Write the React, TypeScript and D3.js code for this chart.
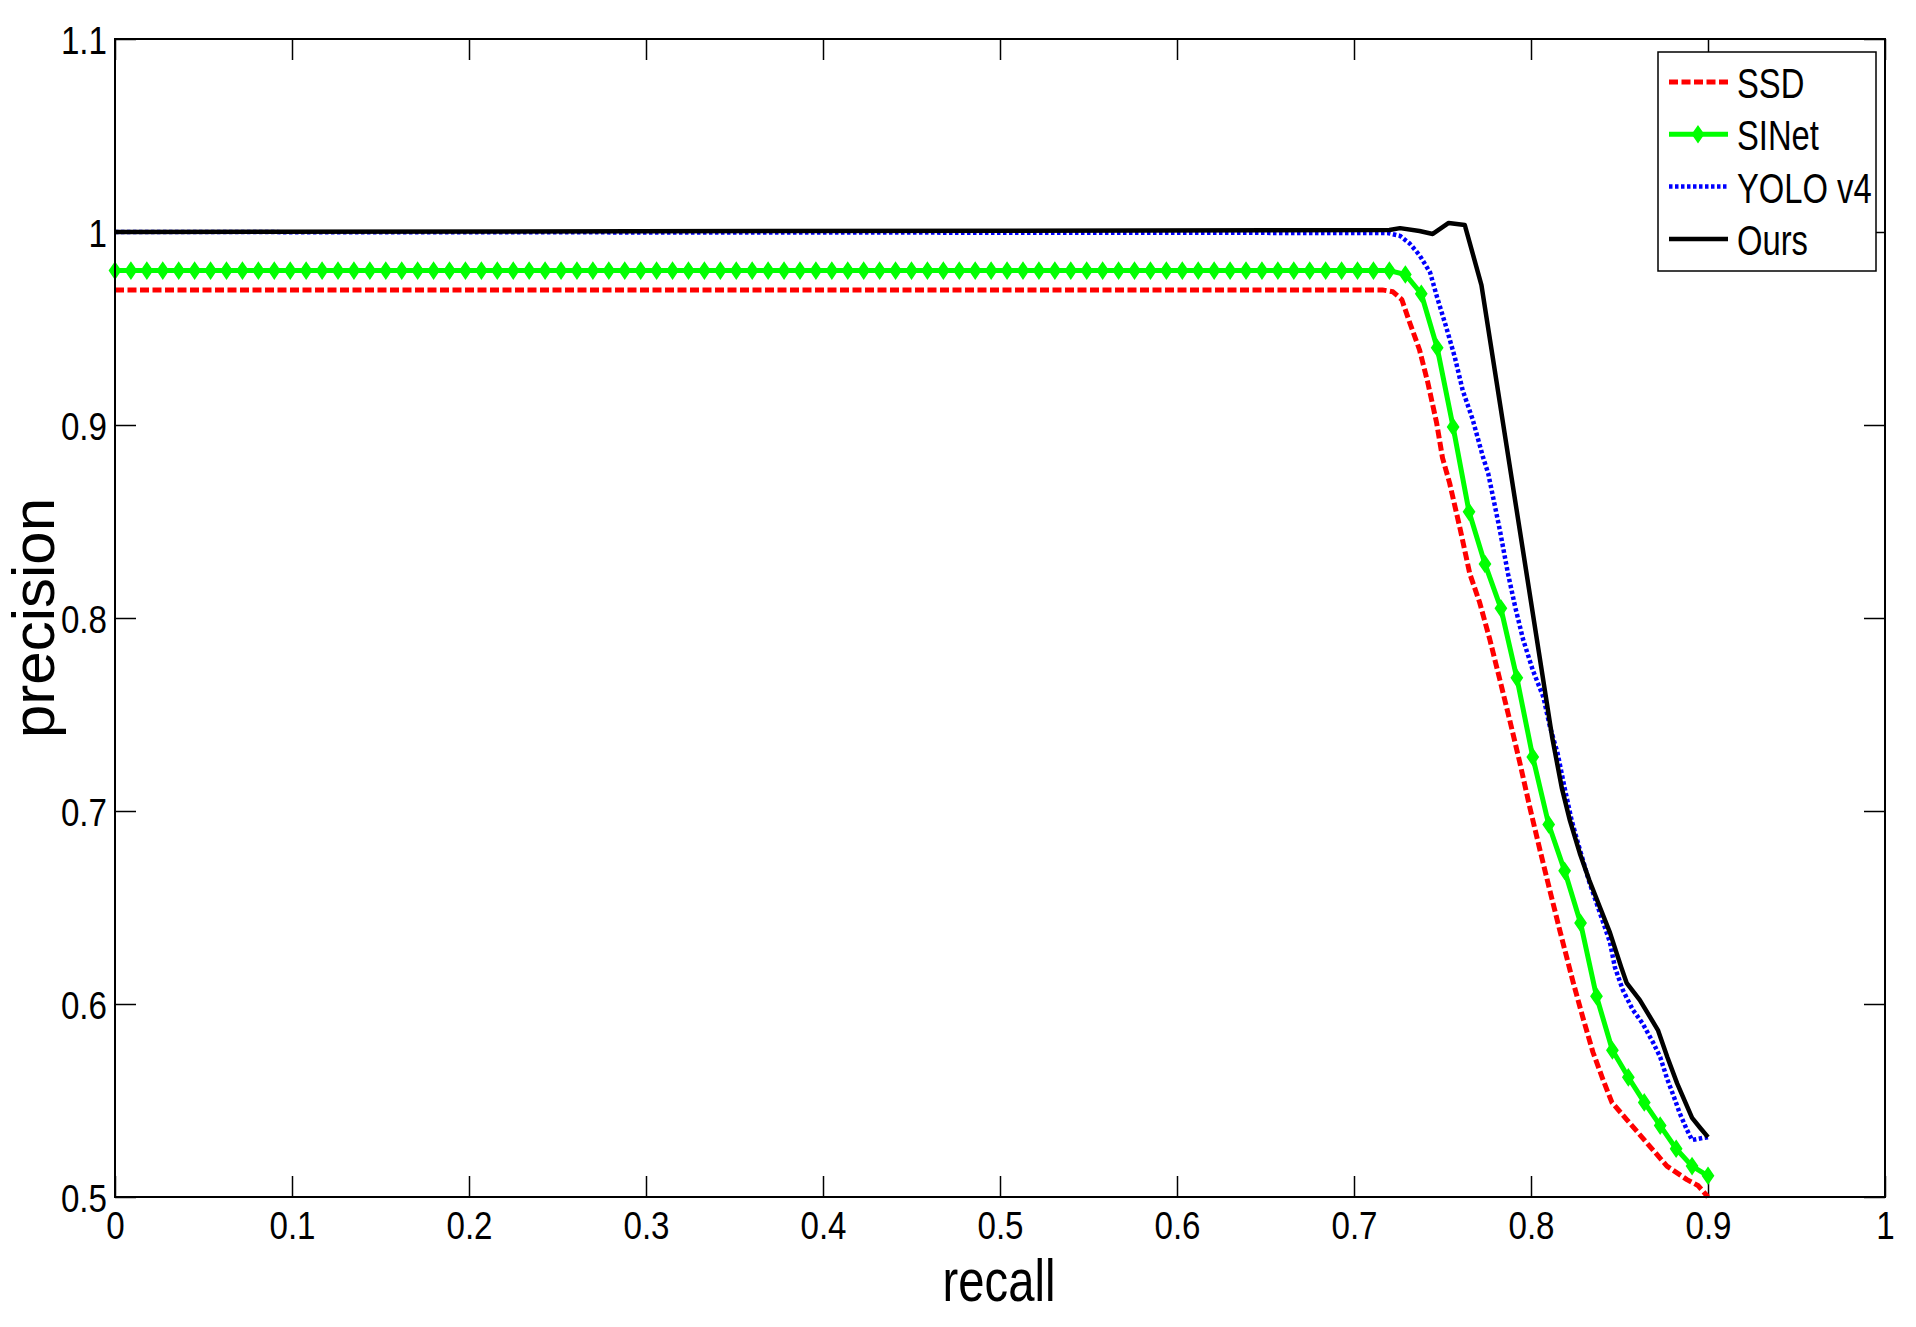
import * as React from 'react'
import * as d3 from 'd3'

const xTicks = [0, 0.1, 0.2, 0.3, 0.4, 0.5, 0.6, 0.7, 0.8, 0.9, 1]
const xTickLabels = ['0', '0.1', '0.2', '0.3', '0.4', '0.5', '0.6', '0.7', '0.8', '0.9', '1']
const yTicks = [0.5, 0.6, 0.7, 0.8, 0.9, 1, 1.1]
const yTickLabels = ['0.5', '0.6', '0.7', '0.8', '0.9', '1', '1.1']

const seriesNames = ['SSD', 'SINet', 'YOLO v4', 'Ours']

const ssdRecall = [0, 0.716, 0.722, 0.727, 0.7315, 0.737, 0.7417, 0.7467, 0.75, 0.754, 0.76, 0.7654, 0.771, 0.7767,
    0.7824, 0.788, 0.7937, 0.7993, 0.805, 0.8106, 0.8163, 0.8236, 0.8293, 0.835, 0.8406, 0.8457, 0.8542, 0.8655,
    0.8768, 0.8881, 0.8943, 0.9]
const ssdPrecision = [0.97, 0.97, 0.969, 0.965, 0.953, 0.939, 0.922, 0.901, 0.883, 0.87, 0.846, 0.823, 0.808, 0.789,
    0.768, 0.747, 0.725, 0.702, 0.68, 0.659, 0.638, 0.612, 0.593, 0.575, 0.561, 0.549, 0.54, 0.528,
    0.516, 0.509, 0.506, 0.5]

const sinetRecall = [
    0, 0.009, 0.018, 0.027, 0.036, 0.045, 0.054, 0.063, 0.072, 0.081,
    0.09, 0.099, 0.108, 0.117, 0.126, 0.135, 0.144, 0.153, 0.162, 0.171,
    0.18, 0.189, 0.198, 0.207, 0.216, 0.225, 0.234, 0.243, 0.252, 0.261,
    0.27, 0.279, 0.288, 0.297, 0.306, 0.315, 0.324, 0.333, 0.342, 0.351,
    0.36, 0.369, 0.378, 0.387, 0.396, 0.405, 0.414, 0.423, 0.432, 0.441,
    0.45, 0.459, 0.468, 0.477, 0.486, 0.495, 0.504, 0.513, 0.522, 0.531,
    0.54, 0.549, 0.558, 0.567, 0.576, 0.585, 0.594, 0.603, 0.612, 0.621,
    0.63, 0.639, 0.648, 0.657, 0.666, 0.675, 0.684, 0.693, 0.702, 0.711,
    0.72, 0.729, 0.738, 0.747, 0.756, 0.765, 0.774, 0.783, 0.792, 0.801,
    0.81, 0.819, 0.828, 0.837, 0.846, 0.855, 0.864, 0.873, 0.882, 0.891,
    0.9]
const sinetPrecision = [
    0.98, 0.98, 0.98, 0.98, 0.98, 0.98, 0.98, 0.98, 0.98, 0.98,
    0.98, 0.98, 0.98, 0.98, 0.98, 0.98, 0.98, 0.98, 0.98, 0.98,
    0.98, 0.98, 0.98, 0.98, 0.98, 0.98, 0.98, 0.98, 0.98, 0.98,
    0.98, 0.98, 0.98, 0.98, 0.98, 0.98, 0.98, 0.98, 0.98, 0.98,
    0.98, 0.98, 0.98, 0.98, 0.98, 0.98, 0.98, 0.98, 0.98, 0.98,
    0.98, 0.98, 0.98, 0.98, 0.98, 0.98, 0.98, 0.98, 0.98, 0.98,
    0.98, 0.98, 0.98, 0.98, 0.98, 0.98, 0.98, 0.98, 0.98, 0.98,
    0.98, 0.98, 0.98, 0.98, 0.98, 0.98, 0.98, 0.98, 0.98, 0.98,
    0.98, 0.978, 0.968, 0.94, 0.899, 0.855, 0.828, 0.805, 0.769, 0.728,
    0.693, 0.669, 0.642, 0.604, 0.576, 0.562, 0.549, 0.537, 0.525, 0.516,
    0.511]

const yoloRecall = [0, 0.719, 0.726, 0.7315, 0.737, 0.743, 0.747, 0.752, 0.757, 0.7614, 0.767, 0.773, 0.7758,
    0.7823, 0.787, 0.791, 0.7955, 0.801, 0.807, 0.8106, 0.815, 0.819, 0.823, 0.8276, 0.833, 0.839, 0.8446,
    0.8474, 0.852, 0.8575, 0.863, 0.869, 0.873, 0.877, 0.8807, 0.884, 0.888, 0.891, 0.897, 0.9]
const yoloPrecision = [1, 0.9995, 0.998, 0.994, 0.988, 0.979, 0.966, 0.951, 0.935, 0.918, 0.903, 0.883, 0.875,
    0.846, 0.823, 0.806, 0.789, 0.773, 0.759, 0.744, 0.73, 0.712, 0.695, 0.68, 0.663, 0.647, 0.632,
    0.619, 0.607, 0.597, 0.59, 0.58, 0.5725, 0.561, 0.552, 0.5435, 0.535, 0.5295, 0.5306, 0.531]

const oursRecall = [0, 0.72, 0.726, 0.737, 0.7445, 0.7535, 0.7626, 0.772, 0.812, 0.8174, 0.822, 0.8276, 0.833,
    0.839, 0.8446, 0.851, 0.854, 0.8615, 0.8717, 0.877, 0.8825, 0.891, 0.8954, 0.9]
const oursPrecision = [1, 1.001, 1.002, 1.0005, 0.999, 1.0047, 1.0036, 0.9725, 0.738, 0.712, 0.695, 0.678, 0.664,
    0.65, 0.637, 0.619, 0.611, 0.602, 0.5865, 0.5725, 0.559, 0.541, 0.536, 0.531]

interface Point {
    recall: number
    precision: number
}

interface LineStyle {
    color: string
    width: number
    dash: string | null
    marker: boolean
}

const styles: LineStyle[] = [
    { color: '#ff0000', width: 5, dash: '9,3.5', marker: false },
    { color: '#00ff00', width: 5, dash: null, marker: true },
    { color: '#0000ff', width: 4.5, dash: '3.5,2.5', marker: false },
    { color: '#000000', width: 4.5, dash: null, marker: false },
]

const toPoints = (r: number[], p: number[]): Point[] => r.map((v, i) => ({ recall: v, precision: p[i] }))

const seriesData = [
    toPoints(ssdRecall, ssdPrecision),
    toPoints(sinetRecall, sinetPrecision),
    toPoints(yoloRecall, yoloPrecision),
    toPoints(oursRecall, oursPrecision),
]

const FONT = '"Liberation Sans", Arial, Helvetica, sans-serif'
const diamond = 'M0,-8L5.5,0L0,8L-5.5,0Z'

export default class App extends React.Component<{}, {}> {
    private node: SVGSVGElement | null = null
    private width = 1916
    private height = 1327
    private margin = { left: 115, top: 39, right: 31, bottom: 130 }

    componentDidMount() {
        this.draw()
    }

    componentDidUpdate() {
        this.draw()
    }

    private draw(): void {
        if (!this.node)
            return

        const svg = d3.select(this.node)
        svg.selectAll('*').remove()

        const { left, top, right, bottom } = this.margin
        const x0 = left, x1 = this.width - right
        const y0 = this.height - bottom, y1 = top

        const x = d3.scaleLinear().domain([0, 1]).range([x0, x1])
        const y = d3.scaleLinear().domain([0.5, 1.1]).range([y0, y1])

        svg.append('rect')
            .attr('width', this.width)
            .attr('height', this.height)
            .attr('fill', '#fff')

        const tickLen = 21

        // bottom axis with labels
        svg.append('g')
            .attr('transform', 'translate(0,' + y0 + ')')
            .call(d3.axisBottom(x).tickValues(xTicks).tickSizeInner(-tickLen).tickSizeOuter(0)
                .tickFormat((d, i) => xTickLabels[i]))
            .call(g => g.select('.domain').remove())
            .attr('font-family', FONT)
            .attr('font-size', 39)
            .attr('color', '#000')
            .call(g => g.selectAll('line').attr('stroke-width', 1.5))
            .call(g => g.selectAll('text')
                .attr('y', null)
                .attr('dy', null)
                .attr('transform', 'translate(0,42) scale(0.85,1)'))

        // top axis, ticks only
        svg.append('g')
            .attr('transform', 'translate(0,' + y1 + ')')
            .call(d3.axisTop(x).tickValues(xTicks).tickSizeInner(-tickLen).tickSizeOuter(0).tickFormat(() => ''))
            .call(g => g.select('.domain').remove())
            .attr('color', '#000')
            .call(g => g.selectAll('line').attr('stroke-width', 1.5))

        // left axis with labels
        svg.append('g')
            .attr('transform', 'translate(' + x0 + ',0)')
            .call(d3.axisLeft(y).tickValues(yTicks).tickSizeInner(-tickLen).tickSizeOuter(0)
                .tickFormat((d, i) => yTickLabels[i]))
            .call(g => g.select('.domain').remove())
            .attr('font-family', FONT)
            .attr('font-size', 39)
            .attr('color', '#000')
            .call(g => g.selectAll('line').attr('stroke-width', 1.5))
            .call(g => g.selectAll('text')
                .attr('x', null)
                .attr('dy', null)
                .attr('transform', 'translate(-8,14) scale(0.85,1)'))

        // right axis, ticks only
        svg.append('g')
            .attr('transform', 'translate(' + x1 + ',0)')
            .call(d3.axisRight(y).tickValues(yTicks).tickSizeInner(-tickLen).tickSizeOuter(0).tickFormat(() => ''))
            .call(g => g.select('.domain').remove())
            .attr('color', '#000')
            .call(g => g.selectAll('line').attr('stroke-width', 1.5))

        // curves
        const line = d3.line<Point>()
            .x(d => x(d.recall))
            .y(d => y(d.precision))

        seriesData.forEach((data, i) => {
            const st = styles[i]
            svg.append('path')
                .datum(data)
                .attr('fill', 'none')
                .attr('stroke', st.color)
                .attr('stroke-width', st.width)
                .attr('stroke-dasharray', st.dash)
                .attr('stroke-linejoin', 'round')
                .attr('d', line)

            if (st.marker) {
                svg.append('g')
                    .selectAll('path')
                    .data(data)
                    .enter().append('path')
                    .attr('transform', d => 'translate(' + x(d.recall) + ',' + y(d.precision) + ')')
                    .attr('d', diamond)
                    .attr('fill', st.color)
                    .attr('stroke', st.color)
                    .attr('stroke-width', 1.5)
            }
        })

        // frame
        svg.append('rect')
            .attr('x', x0)
            .attr('y', y1)
            .attr('width', x1 - x0)
            .attr('height', y0 - y1)
            .attr('fill', 'none')
            .attr('stroke', '#000')
            .attr('stroke-width', 2)

        // axis titles
        svg.append('text')
            .attr('transform', 'translate(' + ((x0 + x1) / 2 - 1) + ',1301) scale(0.8,1)')
            .attr('text-anchor', 'middle')
            .attr('font-family', FONT)
            .attr('font-size', 59)
            .text('recall')

        svg.append('text')
            .attr('transform', 'translate(54,' + ((y0 + y1) / 2) + ') rotate(-90)')
            .attr('text-anchor', 'middle')
            .attr('font-family', FONT)
            .attr('font-size', 60)
            .text('precision')

        // legend
        const lg = svg.append('g').attr('transform', 'translate(1658,52)')
        lg.append('rect')
            .attr('width', 218)
            .attr('height', 219)
            .attr('fill', '#fff')
            .attr('stroke', '#000')
            .attr('stroke-width', 1.5)

        seriesNames.forEach((name, i) => {
            const st = styles[i]
            const cy = 30 + i * 52.3
            lg.append('line')
                .attr('x1', 11)
                .attr('x2', 70)
                .attr('y1', cy)
                .attr('y2', cy)
                .attr('stroke', st.color)
                .attr('stroke-width', st.width)
                .attr('stroke-dasharray', st.dash)
            if (st.marker) {
                lg.append('path')
                    .attr('transform', 'translate(40,' + cy + ')')
                    .attr('d', diamond)
                    .attr('fill', st.color)
                    .attr('stroke', st.color)
                    .attr('stroke-width', 1.5)
            }
            lg.append('text')
                .attr('transform', 'translate(79,' + (cy + 16) + ') scale(0.78,1)')
                .attr('font-family', FONT)
                .attr('font-size', 42)
                .text(name)
        })
    }

    render() {
        return (
            <svg
                width={this.width}
                height={this.height}
                style={{ position: 'absolute', left: 0, top: 0, display: 'block' }}
                ref={node => { this.node = node }} />
        )
    }
}
